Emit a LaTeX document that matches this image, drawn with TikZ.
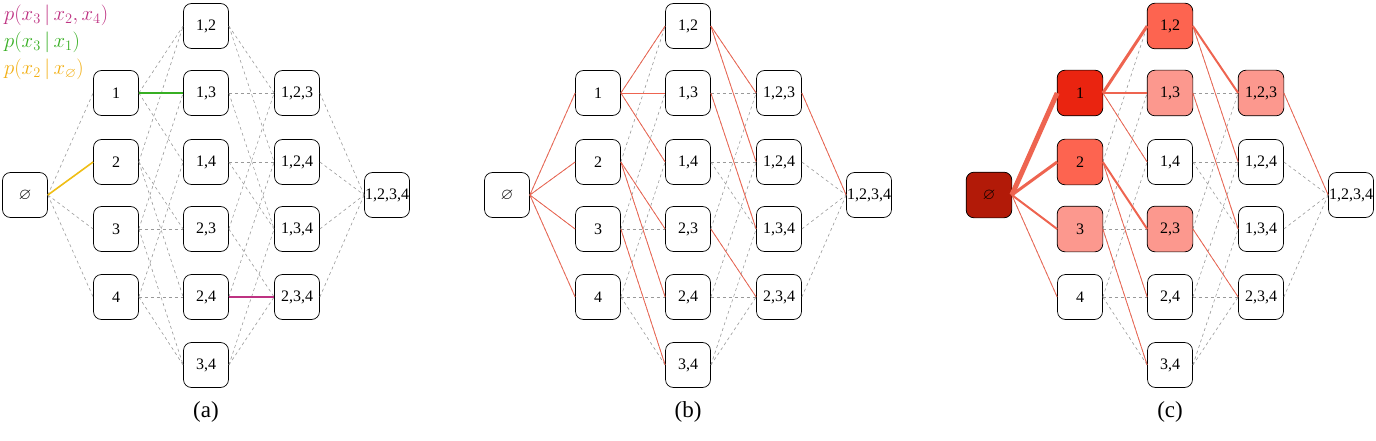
\documentclass[tikz,border=0pt]{standalone}
\usepackage{amssymb}
\usepackage{fontspec}
\setmainfont{Liberation Serif}
\begin{document}
\definecolor{tree}{RGB}{238,100,80}
\definecolor{dk}{RGB}{178,26,8}
\definecolor{c1}{RGB}{234,36,16}
\definecolor{c2}{RGB}{253,100,80}
\definecolor{c3}{RGB}{252,152,142}
\definecolor{mag}{RGB}{190,50,130}
\definecolor{grn}{RGB}{55,175,35}
\definecolor{org}{RGB}{242,175,20}
\definecolor{yel}{RGB}{240,190,20}
\begin{tikzpicture}[x=1pt,y=-1pt,
  st/.style={draw,rounded corners=8pt,minimum width=45pt,minimum height=45pt,inner sep=0pt,font=\fontsize{16}{16}\selectfont,line width=0.7pt},
  dsh/.style={gray!80,dashed,line width=0.6pt},
  tr/.style={tree,line width=0.8pt},
  lbl/.style={font=\fontsize{23}{23}\selectfont}]
\useasboundingbox (0,0) rectangle (1376,441);
\newcommand\lattice[2]{%
 \begin{scope}[xshift=#2pt]
 \node[st] (#1-0) at (25,195) {$\varnothing$};
 \node[st] (#1-1) at (116,93) {1};
 \node[st] (#1-2) at (116,162) {2};
 \node[st] (#1-3) at (116,229) {3};
 \node[st] (#1-4) at (116,297) {4};
 \node[st] (#1-12) at (206,26) {1,2};
 \node[st] (#1-13) at (206,93) {1,3};
 \node[st] (#1-14) at (206,162) {1,4};
 \node[st] (#1-23) at (206,229) {2,3};
 \node[st] (#1-24) at (206,297) {2,4};
 \node[st] (#1-34) at (206,365) {3,4};
 \node[st] (#1-123) at (297,93) {1,2,3};
 \node[st] (#1-124) at (297,162) {1,2,4};
 \node[st] (#1-134) at (297,229) {1,3,4};
 \node[st] (#1-234) at (297,297) {2,3,4};
 \node[st] (#1-1234) at (387,195) {1,2,3,4};
 \end{scope}
 \foreach \u/\v in {0/1,0/2,0/3,0/4,1/12,1/13,1/14,2/12,2/23,2/24,3/13,3/23,3/34,4/14,4/24,4/34,
   12/123,12/124,13/123,13/134,14/124,14/134,23/123,23/234,24/124,24/234,34/134,34/234,
   123/1234,124/1234,134/1234,234/1234}
   \draw[dsh] (#1-\u.east) -- (#1-\v.west);
}
% (a)
\lattice{a}{0}
\draw[yel,line width=1.6pt] (a-0.east) -- (a-2.west);
\draw[grn,line width=1.6pt] (a-1.east) -- (a-13.west);
\draw[mag,line width=1.6pt] (a-24.east) -- (a-234.west);
\node[anchor=west,text=mag,font=\fontsize{20}{20}\selectfont,inner sep=0pt] (l1) at (4,15) {$p(x_3\,|\,x_2,x_4)$};
\node[anchor=west,text=grn,font=\fontsize{20}{20}\selectfont,inner sep=0pt] (l2) at (4,42) {$p(x_3\,|\,x_1)$};
\node[anchor=west,text=org,font=\fontsize{20}{20}\selectfont,inner sep=0pt] (l3) at (4,69) {$p(x_2\,|\,x_\varnothing)$};
% (b)
\lattice{b}{482}
\foreach \u/\v in {0/1,0/2,0/3,0/4,1/12,1/13,1/14,2/23,2/24,3/34,12/123,12/124,13/134,23/234,123/1234}
  \draw[tr] (b-\u.east) -- (b-\v.west);
% (c)
\lattice{c}{964}
\foreach \n/\c in {0/dk,1/c1,2/c2,12/c2,3/c3,13/c3,23/c3,123/c3}
  \draw[fill=\c,rounded corners=8pt,line width=0.7pt] (c-\n.south west) rectangle (c-\n.north east);
\node[font=\fontsize{16}{16}\selectfont] at (c-0) {$\varnothing$};
\foreach \n/\t in {1/1,2/2,12/{1,2},3/3,13/{1,3},23/{2,3},123/{1,2,3}}
  \node[font=\fontsize{16}{16}\selectfont] at (c-\n) {\t};
\foreach \u/\v/\w in {0/1/5,0/2/3,0/3/2,0/4/0.8,1/12/3,1/13/2,1/14/0.8,2/23/2,2/24/0.8,3/34/0.8,12/123/2,12/124/0.8,13/134/0.8,23/234/0.8,123/1234/0.8}
  \draw[tree,line width=\w pt] (c-\u.east) -- (c-\v.west);
\node[lbl] (la) at (206,412) {(a)};
\node[lbl] (lb) at (688,412) {(b)};
\node[lbl] (lc) at (1170,412) {(c)};
\end{tikzpicture}
\end{document}
